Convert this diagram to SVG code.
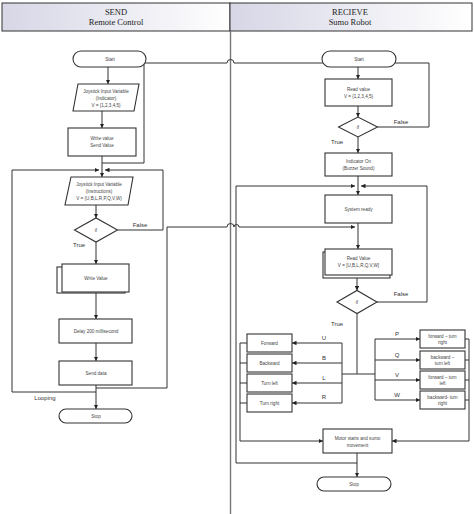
<svg xmlns="http://www.w3.org/2000/svg" width="474" height="514" viewBox="0 0 474 514">
  <defs>
    <linearGradient id="hdr" x1="0" y1="0" x2="1" y2="0">
      <stop offset="0" stop-color="#d6d6e6"/>
      <stop offset="1" stop-color="#ffffff"/>
    </linearGradient>
    <marker id="arr" viewBox="0 0 6 6" refX="6" refY="3" markerWidth="4.5" markerHeight="4.5" markerUnits="userSpaceOnUse" orient="auto">
      <path d="M0,0 L6,3 L0,6 z" fill="#222"/>
    </marker>
    <style>
      .box { fill: #ffffff; stroke: #333; stroke-width: 1.1; }
      .ln { fill: none; stroke: #333; stroke-width: 1; }
      .t { font-family: "Liberation Sans", Arial, sans-serif; font-size: 4.6px; fill: #444; text-anchor: middle; }
      .lb { font-family: "Liberation Sans", Arial, sans-serif; font-size: 6px; fill: #333; text-anchor: middle; }
      .hd { font-family: "Liberation Serif", "Times New Roman", serif; font-size: 8.5px; fill: #222; text-anchor: middle; }
    </style>
  </defs>

  <rect width="474" height="514" fill="#ffffff"/>

  <!-- swimlane header -->
  <g id="header">
    <rect x="2" y="3" width="228" height="28" fill="url(#hdr)" stroke="#333" stroke-width="1"/>
    <rect x="230" y="3" width="242" height="28" fill="url(#hdr)" stroke="#333" stroke-width="1"/>
    <text class="hd" x="116" y="15">SEND</text>
    <text class="hd" x="116" y="25">Remote Control</text>
    <text class="hd" x="350" y="15">RECIEVE</text>
    <text class="hd" x="350" y="25">Sumo Robot</text>
  </g>
  <line id="lane-divider" x1="230.5" y1="31" x2="230.5" y2="514" stroke="#777" stroke-width="1.4"/>

  <!-- connectors -->
  <g id="connectors">
    <!-- send side -->
    <line class="ln" x1="108" y1="67" x2="108" y2="84" marker-end="url(#arr)"/>
    <line class="ln" x1="102" y1="111" x2="102" y2="128" marker-end="url(#arr)"/>
    <line class="ln" x1="102" y1="156" x2="102" y2="177" marker-end="url(#arr)"/>
    <path class="ln" d="M102,163 H144 V63 H227 A3.5,3.5 0 0 1 234,63 H355" marker-end="url(#arr)"/>
    <path class="ln" d="M96,392 H12 V170 H99" marker-end="url(#arr)"/>
    <path class="ln" d="M117.5,230 H163 V170 H105" marker-end="url(#arr)"/>
    <line class="ln" x1="96" y1="205" x2="96" y2="218" marker-end="url(#arr)"/>
    <line class="ln" x1="96" y1="242" x2="96" y2="264" marker-end="url(#arr)"/>
    <line class="ln" x1="96" y1="292" x2="96" y2="319" marker-end="url(#arr)"/>
    <line class="ln" x1="96" y1="343" x2="96" y2="361" marker-end="url(#arr)"/>
    <line class="ln" x1="96" y1="385" x2="96" y2="409" marker-end="url(#arr)"/>
    <path class="ln" d="M96,388 H167 V227 H227 A3.5,3.5 0 0 1 234,227 A2.5,2.5 0 0 1 239,227 H355" marker-end="url(#arr)"/>
    <text class="lb" x="140" y="227">False</text>
    <text class="lb" x="79" y="247">True</text>
    <text class="lb" x="45" y="400">Looping</text>

    <!-- receive side -->
    <line class="ln" x1="358" y1="67" x2="358" y2="79" marker-end="url(#arr)"/>
    <line class="ln" x1="358" y1="106" x2="358" y2="117" marker-end="url(#arr)"/>
    <path class="ln" d="M377.5,127 H429 V63 H361" marker-end="url(#arr)"/>
    <text class="lb" x="401" y="124">False</text>
    <text class="lb" x="337" y="144">True</text>
    <line class="ln" x1="358" y1="137" x2="358" y2="153" marker-end="url(#arr)"/>
    <line class="ln" x1="358" y1="176" x2="358" y2="195" marker-end="url(#arr)"/>
    <path class="ln" d="M357,463 H236 V186 H355" marker-end="url(#arr)"/>
    <path class="ln" d="M377,302 H427 V186 H361" marker-end="url(#arr)"/>
    <text class="lb" x="401" y="296">False</text>
    <line class="ln" x1="358" y1="223" x2="358" y2="249" marker-end="url(#arr)"/>
    <line class="ln" x1="357" y1="277" x2="357" y2="290.5" marker-end="url(#arr)"/>
    <text class="lb" x="337" y="326">True</text>
    <path class="ln" d="M357,313.5 V374 M342,374 H375 M342,343 V403 M375,339 V400"/>

    <line class="ln" x1="342" y1="343" x2="292" y2="343" marker-end="url(#arr)"/>
    <line class="ln" x1="342" y1="363" x2="292" y2="363" marker-end="url(#arr)"/>
    <line class="ln" x1="342" y1="383" x2="292" y2="383" marker-end="url(#arr)"/>
    <line class="ln" x1="342" y1="403" x2="292" y2="403" marker-end="url(#arr)"/>
    <text class="lb" x="324" y="340">U</text>
    <text class="lb" x="324" y="360">B</text>
    <text class="lb" x="324" y="380">L</text>
    <text class="lb" x="324" y="399">R</text>

    <line class="ln" x1="375" y1="339" x2="420" y2="339" marker-end="url(#arr)"/>
    <line class="ln" x1="375" y1="360" x2="420" y2="360" marker-end="url(#arr)"/>
    <line class="ln" x1="375" y1="380" x2="420" y2="380" marker-end="url(#arr)"/>
    <line class="ln" x1="375" y1="400" x2="420" y2="400" marker-end="url(#arr)"/>
    <text class="lb" x="397" y="336">P</text>
    <text class="lb" x="397" y="357">Q</text>
    <text class="lb" x="397" y="377">V</text>
    <text class="lb" x="397" y="397">W</text>

    <path class="ln" d="M247,343 H240 M247,363 H240 M247,383 H240 M247,403 H240"/>
    <path class="ln" d="M240,343 V441 H323" marker-end="url(#arr)"/>
    <path class="ln" d="M465,339 H469 M465,360 H469 M465,380 H469 M465,400 H469"/>
    <path class="ln" d="M469,339 V441 H392" marker-end="url(#arr)"/>
    <line class="ln" x1="357" y1="453" x2="357" y2="477" marker-end="url(#arr)"/>
  </g>

  <!-- send side nodes -->
  <g id="send-start">
    <rect class="box" x="73" y="51" width="73" height="16" rx="8"/>
    <text class="t" x="110" y="60.5">Start</text>
  </g>
  <g id="send-input-indicator">
    <polygon class="box" points="78,84 139,84 134,111 73,111"/>
    <text class="t" x="106" y="92.5">Joystick Input Variable</text>
    <text class="t" x="106" y="99.5">(Indicator)</text>
    <text class="t" x="106" y="106.5">V = {1,2,3,4,5}</text>
  </g>
  <g id="send-write-value">
    <rect class="box" x="68" y="128" width="68" height="28"/>
    <text class="t" x="102" y="140">Write value</text>
    <text class="t" x="102" y="147">Send Value</text>
  </g>
  <g id="send-input-instructions">
    <polygon class="box" points="71,177 133,177 128,205 65,205"/>
    <text class="t" x="99" y="185.5">Joystick Input Variable</text>
    <text class="t" x="99" y="192.5">(Instructions)</text>
    <text class="t" x="99" y="200">V = {U,B,L,R,P,Q,V,W}</text>
  </g>
  <g id="send-if">
    <polygon class="box" points="74.5,230 96,218 117.5,230 96,242"/>
    <text class="t" x="96" y="231.5">if</text>
  </g>
  <g id="send-write-value-2">
    <rect class="box" x="57" y="267" width="68" height="26"/>
    <rect class="box" x="62" y="264" width="67" height="28"/>
    <text class="t" x="96" y="279.5">Write Value</text>
  </g>
  <g id="send-delay">
    <rect class="box" x="59" y="319" width="73" height="24"/>
    <text class="t" x="96" y="332.5">Delay 200 millisecond</text>
  </g>
  <g id="send-data">
    <rect class="box" x="59" y="361" width="73" height="24"/>
    <text class="t" x="96" y="374.5">Send data</text>
  </g>
  <g id="send-stop">
    <rect class="box" x="59" y="409" width="73" height="14" rx="7"/>
    <text class="t" x="96" y="417.5">Stop</text>
  </g>

  <!-- receive side nodes -->
  <g id="recv-start">
    <rect class="box" x="322" y="51" width="74" height="16" rx="8"/>
    <text class="t" x="359" y="60.5">Start</text>
  </g>
  <g id="recv-read-value">
    <rect class="box" x="325" y="79" width="67" height="27"/>
    <text class="t" x="358.5" y="90.5">Read value</text>
    <text class="t" x="358.5" y="97.5">V = {1,2,3,4,5}</text>
  </g>
  <g id="recv-if-1">
    <polygon class="box" points="338.5,127 358,117 377.5,127 358,137"/>
    <text class="t" x="358" y="128.5">if</text>
  </g>
  <g id="recv-indicator">
    <rect class="box" x="325" y="153" width="67" height="23"/>
    <text class="t" x="358.5" y="162.5">Indicator On</text>
    <text class="t" x="358.5" y="169.5">(Buzzer Sound)</text>
  </g>
  <g id="recv-system-ready">
    <rect class="box" x="325" y="195" width="67" height="28"/>
    <text class="t" x="358.5" y="210.5">System ready</text>
  </g>
  <g id="recv-read-value-2">
    <rect class="box" x="323" y="252" width="67" height="26"/>
    <rect class="box" x="325" y="249" width="67" height="26"/>
    <text class="t" x="358.5" y="260">Read Value</text>
    <text class="t" x="358.5" y="267">V = [U,B,L,R,Q,V,W]</text>
  </g>
  <g id="recv-if-2">
    <polygon class="box" points="337,302 357,290.5 377,302 357,313.5"/>
    <text class="t" x="357" y="303.5">if</text>
  </g>
  <g id="recv-forward">
    <rect class="box" x="247" y="334" width="45" height="18"/>
    <text class="t" x="269.5" y="344.5">Forward</text>
  </g>
  <g id="recv-backward">
    <rect class="box" x="247" y="354" width="45" height="18"/>
    <text class="t" x="269.5" y="364.5">Backward</text>
  </g>
  <g id="recv-turn-left">
    <rect class="box" x="247" y="374" width="45" height="18"/>
    <text class="t" x="269.5" y="384.5">Turn left</text>
  </g>
  <g id="recv-turn-right">
    <rect class="box" x="247" y="394" width="45" height="18"/>
    <text class="t" x="269.5" y="404.5">Turn right</text>
  </g>
  <g id="recv-forward-turn-right">
    <rect class="box" x="420" y="330" width="45" height="18"/>
    <text class="t" x="442.5" y="337.5">forward – turn</text>
    <text class="t" x="442.5" y="343.5">right</text>
  </g>
  <g id="recv-backward-turn-left">
    <rect class="box" x="420" y="351" width="45" height="18"/>
    <text class="t" x="442.5" y="358.5">backward –</text>
    <text class="t" x="442.5" y="364.5">turn left</text>
  </g>
  <g id="recv-forward-turn-left">
    <rect class="box" x="420" y="371" width="45" height="18"/>
    <text class="t" x="442.5" y="378.5">forward – turn</text>
    <text class="t" x="442.5" y="384.5">left</text>
  </g>
  <g id="recv-backward-turn-right">
    <rect class="box" x="420" y="391" width="45" height="18"/>
    <text class="t" x="442.5" y="398.5">backward- turn</text>
    <text class="t" x="442.5" y="404.5">right</text>
  </g>
  <g id="recv-motor">
    <rect class="box" x="323" y="429" width="69" height="24"/>
    <text class="t" x="357.5" y="440">Motor starts and sumo</text>
    <text class="t" x="357.5" y="447">movement</text>
  </g>
  <g id="recv-stop">
    <rect class="box" x="317" y="477" width="74" height="14" rx="7"/>
    <text class="t" x="354" y="485.5">Stop</text>
  </g>
</svg>
